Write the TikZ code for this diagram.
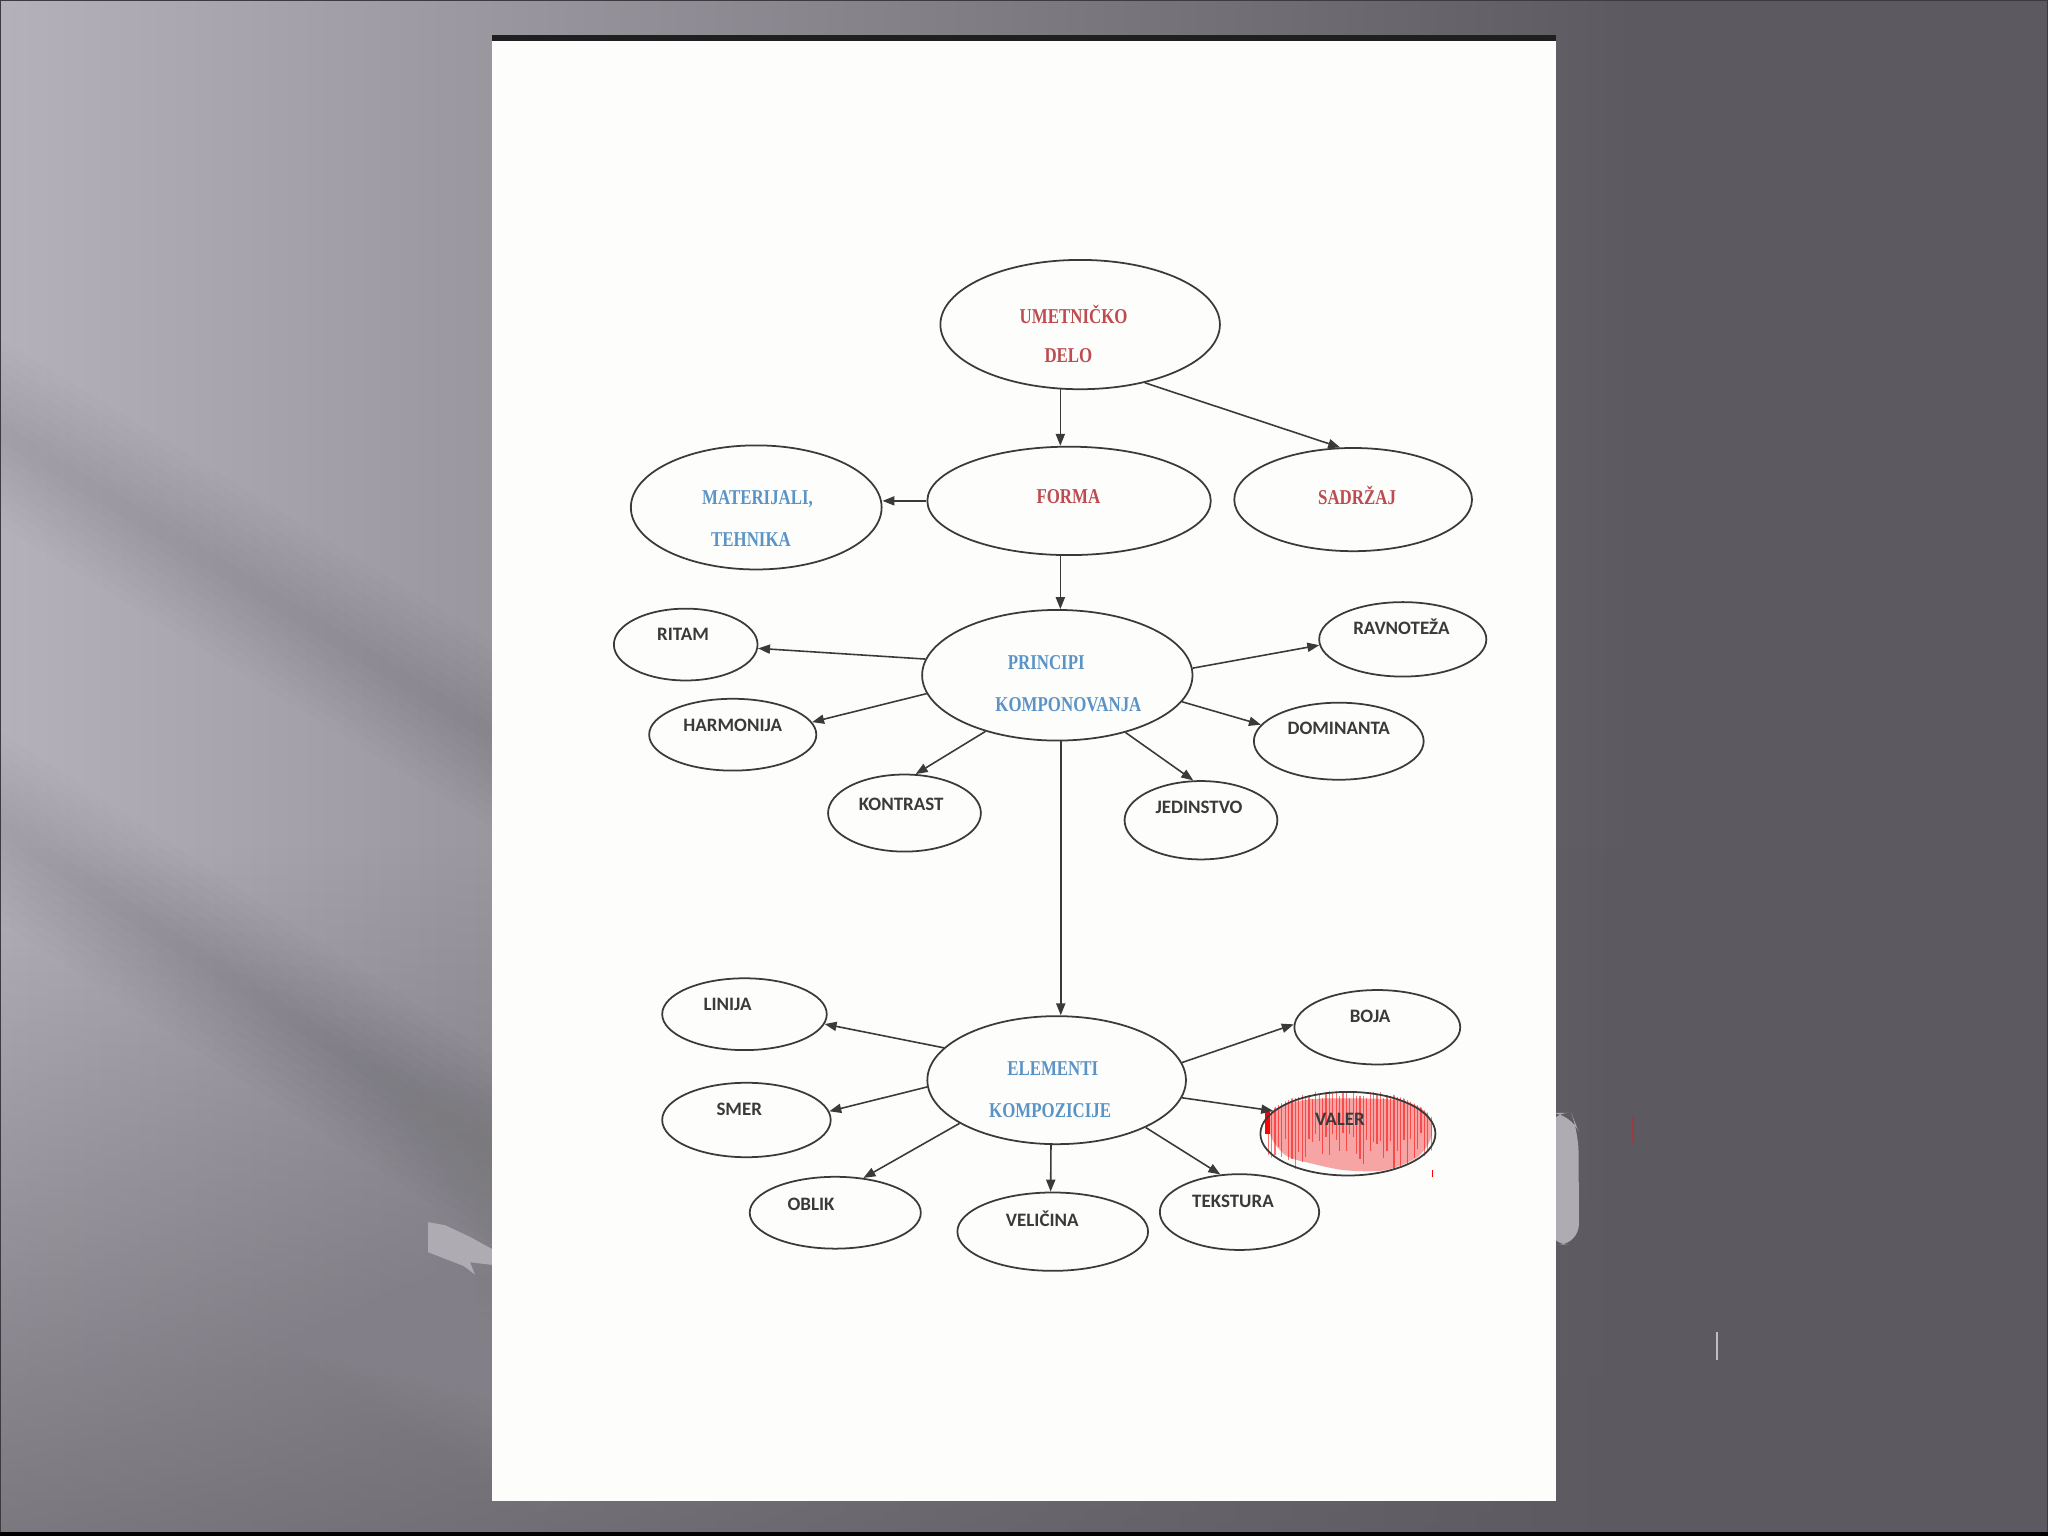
\documentclass[tikz,border=0pt]{standalone}
\usepackage{fontspec}
\setmainfont{Carlito}
\newfontfamily\serifc[FakeStretch=0.8]{Liberation Serif}
\usetikzlibrary{shapes.geometric,arrows.meta,fadings}
\definecolor{bgdark}{HTML}{5C5960}
\definecolor{bglight}{HTML}{B4B1BA}
\definecolor{streak}{HTML}{D6D3DD}
\definecolor{ghost}{HTML}{AEACB2}
\definecolor{pagew}{HTML}{FDFDFC}
\definecolor{ink}{HTML}{3A3A3A}
\definecolor{redt}{HTML}{BE4B4F}
\definecolor{bluet}{HTML}{5A93C6}
\definecolor{blob}{HTML}{F26A6A}
\definecolor{framec}{HTML}{3D3B40}
\tikzfading[name=fadeup, top color=transparent!100, bottom color=transparent!0]
\begin{document}
\begin{tikzpicture}[x=0.013061cm, y=-0.013061cm,
  el/.style 2 args={ellipse, draw=ink, line width=0.5pt, inner sep=0pt,
    minimum width=#1*0.026122cm, minimum height=#2*0.026122cm},
  blab/.style={font=\bfseries\fontsize{5.4}{6}\selectfont, text=ink, anchor=base, yshift=-1.75pt, inner sep=0pt},
  slab/.style={font=\serifc\bfseries\fontsize{6}{7}\selectfont, anchor=base, yshift=-2pt, inner sep=0pt},
  arr/.style={draw=ink, line width=0.45pt, -{Triangle[length=3.4pt,width=2.6pt]}}]
\useasboundingbox (0,0) rectangle (1568,1176);
% ---------- background ----------
\fill[bgdark] (0,0) rectangle (1568,1176);
\shade[left color=bglight, right color=bgdark] (0,0) rectangle (1250,1176);
\fill[bgdark, opacity=0.65, path fading=fadeup] (0,650) rectangle (1250,1176);
\foreach \w in {5,10,...,45}{
  \draw[streak, opacity=0.012, line width=\w pt] (-50,430) -- (450,747);
  \draw[streak, opacity=0.010, line width=\w pt] (-50,780) -- (450,1109);
  \draw[streak, opacity=0.010, line width=\w pt] (-50,150) -- (450,361);
  \draw[black, opacity=0.007, line width=\w pt] (-50,300) -- (450,607);
  \draw[black, opacity=0.007, line width=\w pt] (-50,600) -- (450,928);
}
\fill[ghost] (327.7,935.7) -- (340.7,938) -- (359.9,947) -- (378,957) -- (378,968.6)
  -- (359.9,966.4) -- (363.6,975.8) -- (355,969.3) -- (327.7,958.7) -- cycle;
\fill[ghost, rounded corners=6] (1185,852) -- (1203,852) -- (1208.5,866) -- (1209,953) -- (1185,953) -- cycle;
\draw[redt!80!black, line width=0.5pt] (1250.3,855) -- (1250.3,875);
\draw[ghost!80!white, line width=0.7pt] (1314.6,1020) -- (1314.6,1041);
\draw[framec, line width=0.8pt] (0,0) rectangle (1568,1176);
\fill[black] (0,1173) rectangle (1568,1176);
% ---------- page ----------
\fill[pagew] (376.5,30) rectangle (1191.5,1149);
\fill[black!88] (376.5,26.5) rectangle (1191.5,31.5);
% ---------- VALER red scribble ----------
\fill[blob, opacity=0.6] plot[smooth cycle] coordinates {(974,851) (1000,842) (1040,841) (1075,843) (1093,853) (1096,870) (1085,886) (1060,896) (1030,896) (1005,891) (985,885) (973,870)};
\begin{scope}
\clip (1032,868) ellipse [x radius=0.9cm, y radius=0.45cm];
\pgfmathsetseed{11}
\foreach \i in {0,...,48}{
  \pgfmathsetmacro{\xx}{971+\i*2.6}
  \pgfmathsetmacro{\ya}{834+8*rnd}
  \pgfmathsetmacro{\yb}{866+32*rnd}
  \draw[red, opacity=0.55, line width=0.35pt] (\xx,\ya) -- (\xx,\yb);
}
\end{scope}
\draw[red, line width=1.2pt] (970.5,851) -- (970.5,868);
\fill[red] (1096,896) rectangle (1097.5,901);
% ---------- ellipses ----------
\node[el={107}{49.5}] (umet) at (827,248.5) {};
\node[el={108.5}{41.5}] (forma) at (818.5,383.5) {};
\node[el={91}{39.5}] (sadrzaj) at (1036,382.5) {};
\node[el={96}{47.5}] (mat) at (579,388.5) {};
\node[el={103.5}{50}] (princ) at (809.5,517) {};
\node[el={55}{27.5}] (ritam) at (525,493.5) {};
\node[el={64}{27.5}] (harm) at (561,562.5) {};
\node[el={58.5}{29.5}] (kontr) at (692.5,622.5) {};
\node[el={58.5}{30}] (jed) at (919.5,628) {};
\node[el={65}{29.5}] (dom) at (1025,567.5) {};
\node[el={64}{28.5}] (ravn) at (1074,489.5) {};
\node[el={99}{49}] (elem) at (809,827) {};
\node[el={63}{27.5}] (linija) at (570,776.5) {};
\node[el={64.5}{28.5}] (smer) at (571.5,857.5) {};
\node[el={65.5}{27.5}] (oblik) at (639.5,928.5) {};
\node[el={73}{30}] (vel) at (806,943) {};
\node[el={61}{29}] (tekst) at (949,928) {};
\node[el={63.5}{28.5}] (boja) at (1054.5,786.5) {};
\node[el={67}{32}] (valer) at (1032,868) {};
% ---------- labels ----------
\node[slab, text=redt] (umet-t1) at (822,242) {UMETNIČKO};
\node[slab, text=redt] (umet-t2) at (818,272) {DELO};
\node[slab, text=redt] (forma-t) at (818,380) {FORMA};
\node[slab, text=redt] (sadrzaj-t) at (1039,381) {SADRŽAJ};
\node[slab, text=bluet] (mat-t1) at (580,381) {MATERIJALI,};
\node[slab, text=bluet] (mat-t2) at (575,413) {TEHNIKA};
\node[slab, text=bluet] (princ-t1) at (801,507) {PRINCIPI};
\node[slab, text=bluet] (princ-t2) at (818,539) {KOMPONOVANJA};
\node[slab, text=bluet] (elem-t1) at (806,818) {ELEMENTI};
\node[slab, text=bluet] (elem-t2) at (804,850) {KOMPOZICIJE};
\node[blab] (ritam-t) at (523,486) {RITAM};
\node[blab] (harm-t) at (561,555) {HARMONIJA};
\node[blab] (kontr-t) at (690,616) {KONTRAST};
\node[blab] (jed-t) at (918,618) {JEDINSTVO};
\node[blab] (dom-t) at (1025,558) {DOMINANTA};
\node[blab] (ravn-t) at (1073,481) {RAVNOTEŽA};
\node[blab] (linija-t) at (557,769) {LINIJA};
\node[blab] (smer-t) at (566,849) {SMER};
\node[blab] (oblik-t) at (621,922) {OBLIK};
\node[blab] (vel-t) at (798,934) {VELIČINA};
\node[blab] (tekst-t) at (944,920) {TEKSTURA};
\node[blab] (boja-t) at (1049,778) {BOJA};
\node[blab] (valer-t) at (1026,857) {VALER};
% ---------- connectors ----------
\draw[arr] (umet.253) -- (umet.253 |- forma.north);
\draw[arr] (umet.318.7) -- (sadrzaj.104.2);
\draw[arr] (forma.west) -- (forma.west -| mat.east);
\draw[arr] (forma.261) -- (forma.261 |- princ.north);
\draw[arr] (princ.173.4) -- (ritam.357.4);
\draw[arr] (princ.188) -- (harm.9.9);
\draw[arr] (princ.218.1) -- (kontr.74.2);
\draw[arr] (princ.320.7) -- (jed.101.8);
\draw[arr] (princ.348.4) -- (dom.168.2);
\draw[arr] (princ.3.3) -- (ravn.184.1);
\draw[arr] (princ.273) -- (princ.273 |- elem.north);
\draw[arr] (elem.164.9) -- (linija.353.3);
\draw[arr] (elem.183.5) -- (smer.6.8);
\draw[arr] (elem.204.4) -- (oblik.51);
\draw[arr] (elem.265.3) -- (vel.93.8);
\draw[arr] (elem.332.4) -- (tekst.117.3);
\draw[arr] (elem.352.4) -- (valer.163.4);
\draw[arr] (elem.8.9) -- (boja.178.6);
\end{tikzpicture}
\end{document}
